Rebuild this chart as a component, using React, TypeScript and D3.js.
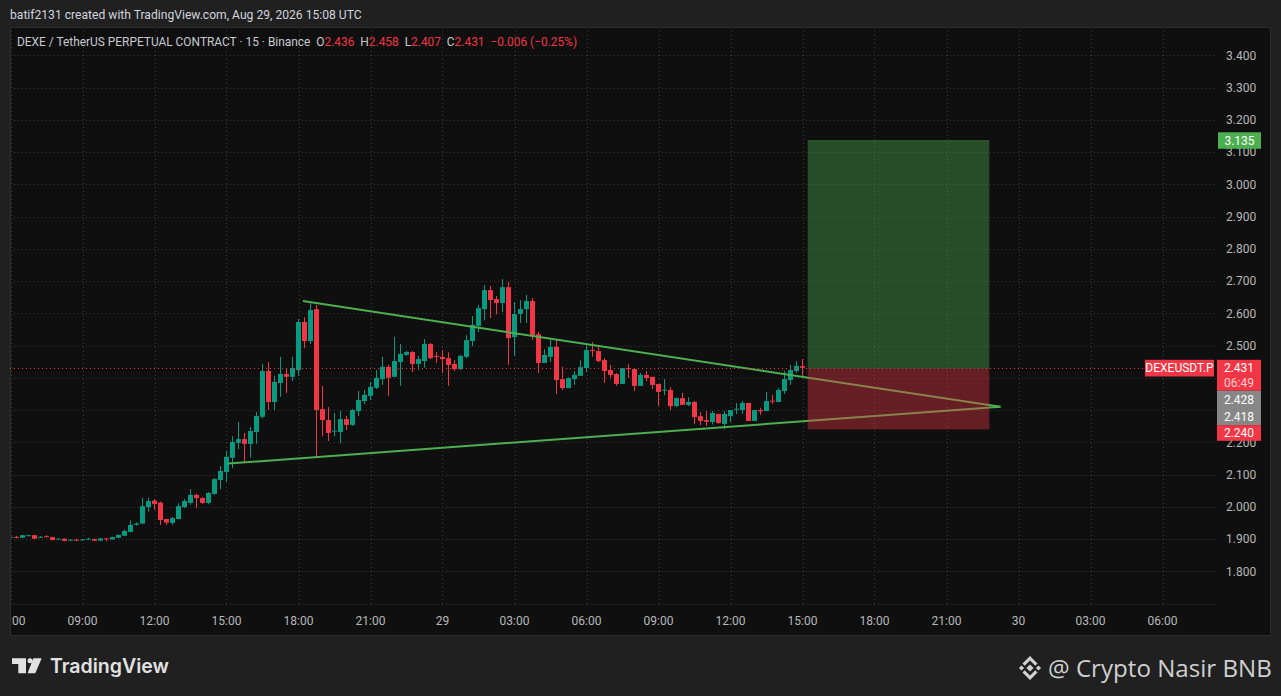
import { useEffect, useRef } from 'react';
import * as d3 from 'd3';

// 15 minute bars, DEXE/USDT perp, from Aug 28 06:00 UTC to Aug 29 15:00 UTC
const opens = [
  1.906, 1.907, 1.904, 1.911, 1.912, 1.906, 1.909, 1.906, 1.900, 1.901,
  1.897, 1.898, 1.896, 1.900, 1.900, 1.895, 1.902, 1.899, 1.904, 1.910,
  1.922, 1.944, 1.948, 1.999, 2.019, 2.013, 1.962, 1.950, 1.962, 1.999,
  2.012, 2.037, 2.027, 2.012, 2.040, 2.083, 2.108, 2.152, 2.198, 2.210,
  2.195, 2.232, 2.279, 2.421, 2.325, 2.384, 2.412, 2.403, 2.424, 2.573,
  2.514, 2.613, 2.303, 2.269, 2.234, 2.232, 2.272, 2.254, 2.297, 2.328,
  2.344, 2.369, 2.396, 2.434, 2.403, 2.449, 2.471, 2.480, 2.443, 2.452,
  2.505, 2.468, 2.465, 2.461, 2.443, 2.427, 2.465, 2.514, 2.561, 2.613,
  2.672, 2.644, 2.632, 2.681, 2.526, 2.598, 2.613, 2.638, 2.535, 2.446,
  2.465, 2.496, 2.396, 2.368, 2.396, 2.406, 2.430, 2.486, 2.483, 2.455,
  2.424, 2.412, 2.381, 2.430, 2.427, 2.375, 2.409, 2.403, 2.381, 2.361,
  2.362, 2.312, 2.337, 2.316, 2.325, 2.281, 2.269, 2.263, 2.288, 2.257,
  2.281, 2.302, 2.300, 2.322, 2.266, 2.300, 2.297, 2.329, 2.325, 2.359,
  2.393, 2.421, 2.436,
];
const highs = [
  1.908, 1.910, 1.913, 1.913, 1.913, 1.909, 1.912, 1.907, 1.902, 1.902,
  1.900, 1.901, 1.900, 1.904, 1.901, 1.903, 1.902, 1.907, 1.914, 1.930,
  1.958, 1.952, 2.028, 2.028, 2.024, 2.016, 1.963, 1.968, 2.011, 2.024,
  2.055, 2.040, 2.030, 2.046, 2.089, 2.127, 2.173, 2.219, 2.263, 2.229,
  2.248, 2.294, 2.443, 2.449, 2.406, 2.465, 2.430, 2.465, 2.582, 2.588,
  2.635, 2.626, 2.375, 2.309, 2.291, 2.297, 2.282, 2.303, 2.359, 2.362,
  2.387, 2.424, 2.465, 2.440, 2.527, 2.505, 2.483, 2.483, 2.468, 2.520,
  2.508, 2.480, 2.486, 2.479, 2.455, 2.471, 2.532, 2.592, 2.626, 2.688,
  2.685, 2.654, 2.706, 2.697, 2.635, 2.641, 2.657, 2.647, 2.542, 2.489,
  2.520, 2.517, 2.434, 2.402, 2.421, 2.455, 2.501, 2.511, 2.499, 2.461,
  2.440, 2.415, 2.430, 2.443, 2.427, 2.415, 2.421, 2.403, 2.381, 2.396,
  2.371, 2.339, 2.353, 2.340, 2.328, 2.294, 2.297, 2.297, 2.288, 2.297,
  2.300, 2.322, 2.328, 2.322, 2.300, 2.307, 2.356, 2.347, 2.368, 2.421,
  2.440, 2.452, 2.458,
];
const lows = [
  1.905, 1.902, 1.903, 1.910, 1.900, 1.904, 1.905, 1.896, 1.899, 1.893,
  1.895, 1.893, 1.895, 1.898, 1.894, 1.894, 1.893, 1.898, 1.903, 1.909,
  1.921, 1.942, 1.946, 1.985, 1.990, 1.944, 1.944, 1.944, 1.961, 1.996,
  2.006, 1.996, 2.009, 2.008, 2.037, 2.055, 2.077, 2.120, 2.179, 2.136,
  2.152, 2.195, 2.275, 2.300, 2.300, 2.341, 2.353, 2.390, 2.406, 2.492,
  2.505, 2.152, 2.219, 2.204, 2.219, 2.197, 2.238, 2.251, 2.282, 2.319,
  2.331, 2.365, 2.378, 2.344, 2.403, 2.375, 2.468, 2.418, 2.424, 2.431,
  2.458, 2.446, 2.415, 2.375, 2.420, 2.424, 2.461, 2.498, 2.541, 2.578,
  2.585, 2.597, 2.604, 2.440, 2.468, 2.570, 2.570, 2.517, 2.415, 2.446,
  2.449, 2.350, 2.362, 2.368, 2.378, 2.406, 2.418, 2.465, 2.448, 2.384,
  2.399, 2.375, 2.381, 2.399, 2.359, 2.375, 2.390, 2.365, 2.312, 2.346,
  2.300, 2.310, 2.316, 2.312, 2.257, 2.253, 2.251, 2.255, 2.257, 2.241,
  2.262, 2.288, 2.288, 2.266, 2.266, 2.285, 2.297, 2.319, 2.325, 2.350,
  2.378, 2.415, 2.407,
];
const closes = [
  1.907, 1.906, 1.912, 1.912, 1.901, 1.907, 1.908, 1.897, 1.901, 1.894,
  1.898, 1.897, 1.899, 1.901, 1.895, 1.902, 1.901, 1.906, 1.913, 1.925,
  1.944, 1.948, 2.002, 2.018, 2.009, 1.959, 1.951, 1.965, 2.002, 2.018,
  2.037, 2.027, 2.012, 2.043, 2.086, 2.111, 2.155, 2.201, 2.210, 2.195,
  2.235, 2.282, 2.421, 2.325, 2.387, 2.412, 2.403, 2.430, 2.573, 2.514,
  2.610, 2.300, 2.269, 2.229, 2.236, 2.272, 2.254, 2.300, 2.331, 2.347,
  2.372, 2.400, 2.434, 2.400, 2.452, 2.474, 2.480, 2.443, 2.458, 2.505,
  2.461, 2.465, 2.458, 2.440, 2.427, 2.468, 2.517, 2.564, 2.616, 2.672,
  2.641, 2.632, 2.681, 2.523, 2.598, 2.613, 2.638, 2.532, 2.446, 2.471,
  2.496, 2.393, 2.368, 2.399, 2.409, 2.433, 2.486, 2.483, 2.452, 2.421,
  2.409, 2.381, 2.430, 2.427, 2.375, 2.409, 2.399, 2.378, 2.356, 2.363,
  2.312, 2.337, 2.316, 2.325, 2.278, 2.266, 2.264, 2.291, 2.260, 2.288,
  2.300, 2.304, 2.322, 2.266, 2.300, 2.296, 2.328, 2.327, 2.362, 2.396,
  2.424, 2.437, 2.431,
];

const firstBar = Date.UTC(2026, 7, 28, 6, 0);
const barMs = 15 * 60 * 1000;

const priceTicks = [1.7, 1.8, 1.9, 2.0, 2.1, 2.2, 2.3, 2.4, 2.5, 2.6, 2.7, 2.8, 2.9, 3.0, 3.1, 3.2, 3.3, 3.4];
const timeTickLabels = [
  '06:00', '09:00', '12:00', '15:00', '18:00', '21:00', '29', '03:00', '06:00',
  '09:00', '12:00', '15:00', '18:00', '21:00', '30', '03:00', '06:00',
];

// triangle drawn on the chart
const upperLine = [
  { time: Date.UTC(2026, 7, 28, 18, 11), price: 2.638 },
  { time: Date.UTC(2026, 7, 29, 23, 15), price: 2.31 },
];
const lowerLine = [
  { time: Date.UTC(2026, 7, 28, 15, 4), price: 2.134 },
  { time: Date.UTC(2026, 7, 29, 23, 15), price: 2.31 },
];

// long position tool
const positionStart = Date.UTC(2026, 7, 29, 15, 13);
const positionEnd = Date.UTC(2026, 7, 29, 22, 47);
const entryPrice = 2.428;
const targetPrice = 3.135;
const stopPrice = 2.24;
const lastPrice = 2.431;

const UP = '#089981';
const DOWN = '#f23645';
const FONT = "Roboto, 'Liberation Sans', sans-serif";

// scale a text's font size so that it spans the wanted width
const fitWidth = (sel: d3.Selection<SVGTextElement, unknown, null, undefined>, size: number, width: number) => {
  const node = sel.node();
  if (!node) return;
  const len = node.getComputedTextLength();
  if (len > 0) sel.attr('font-size', (size * width) / len);
};

const App = () => {
  const ref = useRef<SVGSVGElement | null>(null);

  useEffect(() => {
    const svg = d3.select(ref.current);
    svg.selectAll('*').remove();

    const W = 1281;
    const H = 696;
    const frame = { left: 10, top: 27, right: 1271, bottom: 636 };
    const plotRight = 1215;
    const plotBottom = 605;

    const x = d3
      .scaleTime()
      .domain([new Date(firstBar), new Date(firstBar + 132 * barMs)])
      .range([10.5, 802.5]);
    const y = d3.scaleLinear().domain([1.8, 3.4]).range([571.3, 55.3]);
    const fmt = d3.format('.3f');

    svg.append('rect').attr('width', W).attr('height', H).attr('fill', '#202020');

    svg
      .append('rect')
      .attr('x', frame.left + 0.5)
      .attr('y', frame.top + 0.5)
      .attr('width', frame.right - frame.left - 1)
      .attr('height', frame.bottom - frame.top - 1)
      .attr('fill', '#0f0f0f')
      .attr('stroke', '#2c2c2c');

    const defs = svg.append('defs');
    defs
      .append('clipPath')
      .attr('id', 'plot-clip')
      .append('rect')
      .attr('x', frame.left + 1)
      .attr('y', frame.top + 1)
      .attr('width', plotRight - frame.left - 1)
      .attr('height', plotBottom - frame.top - 1);
    defs
      .append('clipPath')
      .attr('id', 'time-clip')
      .append('rect')
      .attr('x', frame.left + 1)
      .attr('y', plotBottom)
      .attr('width', plotRight - frame.left)
      .attr('height', frame.bottom - plotBottom);

    const plot = svg.append('g').attr('clip-path', 'url(#plot-clip)');

    // grid
    const tickTimes = timeTickLabels.map((_, i) => new Date(firstBar + i * 3 * 3600 * 1000));
    plot
      .selectAll('.vgrid')
      .data(tickTimes)
      .enter()
      .append('line')
      .attr('x1', d => Math.round(x(d)) + 0.5)
      .attr('x2', d => Math.round(x(d)) + 0.5)
      .attr('y1', frame.top)
      .attr('y2', plotBottom)
      .attr('stroke', '#3a3a3a')
      .attr('stroke-dasharray', '1 3');
    plot
      .selectAll('.hgrid')
      .data(priceTicks)
      .enter()
      .append('line')
      .attr('x1', frame.left)
      .attr('x2', plotRight)
      .attr('y1', d => Math.round(y(d)) + 0.5)
      .attr('y2', d => Math.round(y(d)) + 0.5)
      .attr('stroke', '#3a3a3a')
      .attr('stroke-dasharray', '1 3');

    // candles
    const bars = opens.map((o, i) => ({
      t: new Date(firstBar + i * barMs),
      o,
      h: highs[i],
      l: lows[i],
      c: closes[i],
    }));
    const candle = plot.selectAll('.candle').data(bars).enter().append('g');
    candle
      .append('line')
      .attr('x1', d => x(d.t))
      .attr('x2', d => x(d.t))
      .attr('y1', d => y(d.h))
      .attr('y2', d => y(d.l))
      .attr('stroke', d => (d.c >= d.o ? UP : DOWN))
      .attr('stroke-width', 1);
    candle
      .append('rect')
      .attr('x', d => x(d.t) - 2.5)
      .attr('width', 5)
      .attr('y', d => y(Math.max(d.o, d.c)))
      .attr('height', d => Math.max(1, Math.abs(y(d.o) - y(d.c))))
      .attr('fill', d => (d.c >= d.o ? UP : DOWN));

    // triangle
    const line = d3
      .line<{ time: number; price: number }>()
      .x(d => x(new Date(d.time)))
      .y(d => y(d.price));
    [upperLine, lowerLine].forEach(pts => {
      plot
        .append('path')
        .attr('d', line(pts))
        .attr('fill', 'none')
        .attr('stroke', '#4caf50')
        .attr('stroke-width', 2);
    });

    // long position
    const px0 = x(new Date(positionStart));
    const px1 = x(new Date(positionEnd));
    plot
      .append('rect')
      .attr('x', px0)
      .attr('width', px1 - px0)
      .attr('y', y(targetPrice))
      .attr('height', y(entryPrice) - y(targetPrice))
      .attr('fill', '#4caf50')
      .attr('fill-opacity', 0.39);
    plot
      .append('line')
      .attr('x1', px0)
      .attr('x2', px1)
      .attr('y1', y(targetPrice))
      .attr('y2', y(targetPrice))
      .attr('stroke', '#4caf50')
      .attr('stroke-opacity', 0.45);
    plot
      .append('rect')
      .attr('x', px0)
      .attr('width', px1 - px0)
      .attr('y', y(entryPrice))
      .attr('height', y(stopPrice) - y(entryPrice))
      .attr('fill', DOWN)
      .attr('fill-opacity', 0.38);

    // last price line
    svg
      .append('line')
      .attr('x1', frame.left)
      .attr('x2', 1145)
      .attr('y1', Math.round(y(lastPrice)) + 0.5)
      .attr('y2', Math.round(y(lastPrice)) + 0.5)
      .attr('stroke', DOWN)
      .attr('stroke-dasharray', '1 3');

    // stacked price labels on the axis (last price, entry/line, stop)
    const labelX = 1217;
    const labelW = 44;
    const stackTop = y(lastPrice) - 8;
    const stack = [
      { h: 31, fill: DOWN, lines: [fmt(lastPrice), '06:49'], colors: ['#fff', '#ffd0d4'] },
      { h: 34.3, fill: '#878787', lines: [fmt(entryPrice), '2.418'], colors: ['#fff', '#fff'] },
      { h: 15.7, fill: DOWN, lines: [fmt(stopPrice)], colors: ['#fff'] },
    ];
    const stackBottom = stackTop + d3.sum(stack, s => s.h);

    // price axis (labels hidden under the stack are skipped, as TradingView does)
    svg
      .append('g')
      .selectAll('text')
      .data(priceTicks.filter(d => d >= 1.8 && !(y(d) > stackTop && y(d) < stackBottom)))
      .enter()
      .append('text')
      .attr('x', 1226)
      .attr('y', d => y(d))
      .attr('dy', '0.35em')
      .attr('fill', '#b8b8b8')
      .attr('font-family', FONT)
      .attr('font-size', 12)
      .text(d => fmt(d));

    // time axis
    svg
      .append('g')
      .attr('clip-path', 'url(#time-clip)')
      .selectAll('text')
      .data(tickTimes)
      .enter()
      .append('text')
      .attr('x', d => x(d))
      .attr('y', 625)
      .attr('text-anchor', 'middle')
      .attr('fill', '#b8b8b8')
      .attr('font-family', FONT)
      .attr('font-size', 12)
      .text((_, i) => timeTickLabels[i]);

    const labels = svg.append('g').attr('font-family', FONT).attr('font-size', 12).attr('text-anchor', 'middle');

    const tY = y(targetPrice);
    labels
      .append('rect')
      .attr('x', labelX + 1)
      .attr('y', tY - 8.5)
      .attr('width', labelW - 1)
      .attr('height', 16.5)
      .attr('fill', '#4caf50');
    labels
      .append('text')
      .attr('x', labelX + 1 + (labelW - 1) / 2)
      .attr('y', tY)
      .attr('dy', '0.35em')
      .attr('fill', '#fff')
      .text(fmt(targetPrice));

    let cy = stackTop;
    stack.forEach(s => {
      labels
        .append('rect')
        .attr('x', labelX)
        .attr('y', cy)
        .attr('width', labelW)
        .attr('height', s.h)
        .attr('fill', s.fill);
      const step = s.h / s.lines.length;
      s.lines.forEach((t, i) => {
        labels
          .append('text')
          .attr('x', labelX + labelW / 2)
          .attr('y', cy + step * i + step / 2)
          .attr('dy', '0.35em')
          .attr('fill', s.colors[i])
          .text(t);
      });
      cy += s.h;
    });

    labels
      .append('rect')
      .attr('x', 1145)
      .attr('y', stackTop)
      .attr('width', 69)
      .attr('height', 16.7)
      .attr('fill', DOWN);
    labels
      .append('text')
      .attr('x', 1145 + 34.5)
      .attr('y', stackTop + 8.35)
      .attr('dy', '0.35em')
      .attr('fill', '#fff')
      .text('DEXEUSDT.P');

    // header and legend
    const header = svg
      .append('text')
      .attr('x', 10)
      .attr('y', 18.5)
      .attr('fill', '#d1d4dc')
      .attr('font-family', FONT)
      .attr('font-size', 12.5)
      .text('batif2131 created with TradingView.com, Aug 29, 2026 15:08 UTC');
    fitWidth(header, 12.5, 352);

    const legend = svg
      .append('text')
      .attr('x', 17)
      .attr('y', 46)
      .attr('fill', '#c8cad0')
      .attr('font-family', FONT)
      .attr('font-size', 12.5)
      .style('white-space', 'pre');
    const parts: [string, string][] = [
      ['DEXE / TetherUS PERPETUAL CONTRACT · 15 · Binance  O', '#c8cad0'],
      ['2.436', DOWN],
      ['  H', '#c8cad0'],
      ['2.458', DOWN],
      ['  L', '#c8cad0'],
      ['2.407', DOWN],
      ['  C', '#c8cad0'],
      ['2.431', DOWN],
      ['  −0.006 (−0.25%)', DOWN],
    ];
    parts.forEach(([t, c]) => legend.append('tspan').attr('fill', c).text(t));
    fitWidth(legend, 12.5, 561);

    // footer
    const logo = svg.append('g').attr('fill', '#e2e2e2');
    logo.append('path').attr('d', 'M12 658.3 H26 V673.3 H18.3 V664 H12 Z');
    logo.append('circle').attr('cx', 30).attr('cy', 660.8).attr('r', 2.5);
    logo.append('path').attr('d', 'M33.3 658.3 L41.7 658.3 L35.3 673.3 L27.6 673.3 Z');
    const tv = svg
      .append('text')
      .attr('x', 50)
      .attr('y', 673.3)
      .attr('fill', '#e2e2e2')
      .attr('font-family', "Inter, 'Open Sans', sans-serif")
      .attr('font-weight', 600)
      .attr('font-size', 21)
      .text('TradingView');
    fitWidth(tv, 21, 119);

    const bx = 1030;
    const by = 668;
    const bnb = svg.append('g').attr('fill', '#d0d0d0');
    const diamond = (cx: number, cyy: number, r: number) =>
      `M${cx} ${cyy - r} L${cx + r} ${cyy} L${cx} ${cyy + r} L${cx - r} ${cyy} Z`;
    bnb.append('path').attr('d', diamond(bx, by, 3.6));
    bnb.append('path').attr('d', diamond(bx - 8.5, by, 2.6));
    bnb.append('path').attr('d', diamond(bx + 8.5, by, 2.6));
    bnb
      .append('path')
      .attr('d', `M${bx} ${by - 12} L${bx + 7.5} ${by - 4.5} L${bx + 5.3} ${by - 2.3} L${bx} ${by - 7.6} L${bx - 5.3} ${by - 2.3} L${bx - 7.5} ${by - 4.5} Z`);
    bnb
      .append('path')
      .attr('d', `M${bx} ${by + 12} L${bx + 7.5} ${by + 4.5} L${bx + 5.3} ${by + 2.3} L${bx} ${by + 7.6} L${bx - 5.3} ${by + 2.3} L${bx - 7.5} ${by + 4.5} Z`);
    const sig = svg
      .append('text')
      .attr('x', 1048)
      .attr('y', 677)
      .attr('fill', '#d0d0d0')
      .attr('font-family', "'Open Sans', sans-serif")
      .attr('font-size', 22)
      .text('@ Crypto Nasir BNB');
    fitWidth(sig, 22, 224);
  }, []);

  return <svg ref={ref} width={1281} height={696} style={{ position: 'absolute', left: 0, top: 0 }} />;
};

export default App;
